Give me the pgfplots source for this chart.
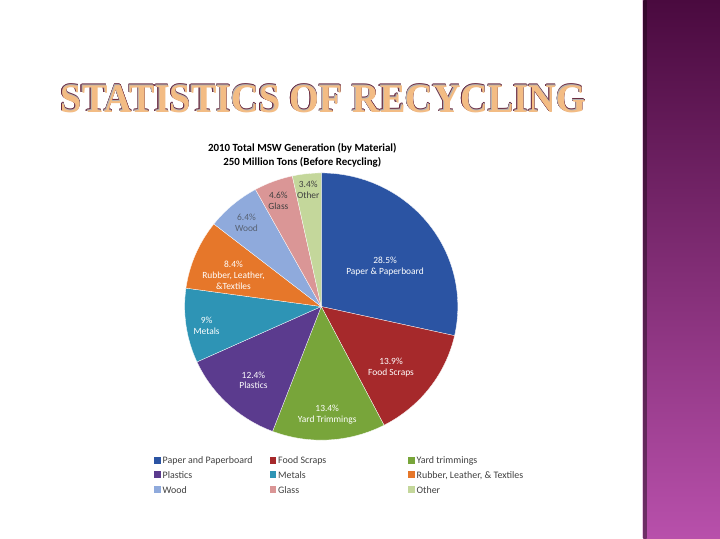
\documentclass[border=0pt]{standalone}
\usepackage{pgfplots}
\pgfplotsset{compat=1.18}
\usepackage{pgfplotstable}
\usepackage{fontspec}
\setmainfont{Carlito}
\newfontfamily\titlefont{Liberation Serif}

\definecolor{pie0}{HTML}{2B54A3}
\definecolor{pie1}{HTML}{A6292B}
\definecolor{pie2}{HTML}{78A53A}
\definecolor{pie3}{HTML}{5B3B8E}
\definecolor{pie4}{HTML}{2E94B5}
\definecolor{pie5}{HTML}{E6772A}
\definecolor{pie6}{HTML}{8FAADC}
\definecolor{pie7}{HTML}{DA9696}
\definecolor{pie8}{HTML}{C4D79B}
\definecolor{barTop}{HTML}{4A0A3F}
\definecolor{barMid}{HTML}{7D2C72}
\definecolor{barBot}{HTML}{B850AB}
\definecolor{outl}{HTML}{6A2A40}
\definecolor{peach}{HTML}{F3BC84}
\definecolor{legtext}{HTML}{404040}

% shares of 2010 MSW generation, clockwise from 12 o'clock
\pgfplotstableread{
name value
Paper 28.5
Food 13.9
Yard 13.4
Plastics 12.4
Metals 9.0
Rubber 8.4
Wood 6.4
Glass 4.6
Other 3.4
}\piedata

\begin{document}
% cumulative start/end angles from the table
\gdef\cumangle{90}
\pgfplotsforeachungrouped \i in {0,...,8}{%
  \pgfplotstablegetelem{\i}{value}\of\piedata
  \pgfmathsetmacro\endang{\cumangle-3.6*\pgfplotsretval}%
  \expandafter\xdef\csname pieS\i\endcsname{\cumangle}%
  \expandafter\xdef\csname pieE\i\endcsname{\endang}%
  \xdef\cumangle{\endang}%
}%
\begin{tikzpicture}[x=1bp,y=1bp]
\path[use as bounding box] (0,0) rectangle (720,540);
\fill[white] (0,0) rectangle (720,540);

% right decorative bar
\shade[top color=barTop, middle color=barMid, bottom color=barBot] (643,0) rectangle (720,540);
\shade[top color=barTop!70!black, bottom color=barBot!60!black] (643,0) rectangle (646.5,540);
\fill[barBot!30!white] (642,0) rectangle (643,540);

% slide title
\def\ttl{\resizebox{527bp}{27bp}{\titlefont\bfseries STATISTICS OF RECYCLING}}
\foreach \dx/\dy in {-0.55/0,0.55/0,0/0.55,0/-0.55,-0.4/0.4,0.4/0.4,-0.4/-0.4,0.4/-0.4}{
  \node[inner sep=0pt, text=outl] at (321.5+\dx,441.5+\dy) {\ttl};
}
\node[inner sep=0pt, text=black!30] at (321.5,441.5) {\ttl};
\node[inner sep=0pt, text=peach] at (322.3,440.9) {\ttl};

% chart title
\node[font=\bfseries\fontsize{11}{14}\selectfont, align=center, text=black] at (301,384)
  {2010 Total MSW Generation (by Material)\\250 Million Tons (Before Recycling)};

\begin{axis}[
  at={(183bp,98.5bp)}, anchor=south west,
  x=137bp, y=134bp,
  xmin=-1, xmax=1, ymin=-1, ymax=1,
  hide axis, clip=false,
  legend columns=3,
  legend cell align=left,
  legend style={draw=none, fill=none, at={(-0.112,-0.059)}, anchor=north west,
    inner sep=0pt, column sep=0pt, row sep=4.4bp,
    nodes={inner sep=1bp, text=legtext, font=\fontsize{10}{10}\selectfont}},
  legend image code/.code={\fill[#1] (0bp,-1.5bp) rectangle (5.5bp,4.5bp);},
]
\pgfplotsinvokeforeach{0,...,8}{
  \fill[pie#1, draw=white, line width=0.3bp] (axis cs:0,0) --
    (axis cs:{cos(\csname pieS#1\endcsname)},{sin(\csname pieS#1\endcsname)})
    arc[start angle=\csname pieS#1\endcsname, end angle=\csname pieE#1\endcsname,
        x radius=137bp, y radius=134bp] -- cycle;
}
\addlegendimage{pie0}\addlegendentry{\makebox[108bp][l]{\hspace{1.5bp}Paper and Paperboard}}
\addlegendimage{pie1}\addlegendentry{\makebox[131bp][l]{\hspace{1.5bp}Food Scraps}}
\addlegendimage{pie2}\addlegendentry{\hspace{1.5bp}Yard trimmings}
\addlegendimage{pie3}\addlegendentry{\makebox[108bp][l]{\hspace{1.5bp}Plastics}}
\addlegendimage{pie4}\addlegendentry{\makebox[131bp][l]{\hspace{1.5bp}Metals}}
\addlegendimage{pie5}\addlegendentry{\hspace{1.5bp}Rubber, Leather, \& Textiles}
\addlegendimage{pie6}\addlegendentry{\makebox[108bp][l]{\hspace{1.5bp}Wood}}
\addlegendimage{pie7}\addlegendentry{\makebox[131bp][l]{\hspace{1.5bp}Glass}}
\addlegendimage{pie8}\addlegendentry{\hspace{1.5bp}Other}
\end{axis}

% slice labels
\begin{scope}[every node/.style={align=center, font=\fontsize{9.5}{11}\selectfont, inner sep=0pt}]
\node[text=white] at (384,273) {28.5\%\\Paper \& Paperboard};
\node[text=white] at (390,171) {13.9\%\\Food Scraps};
\node[text=white] at (326,124.5) {13.4\%\\Yard Trimmings};
\node[text=white] at (252,158.5) {12.4\%\\Plastics};
\node[text=white] at (205,213) {9\%\\Metals};
\node[text=white] at (232,264) {8.4\%\\Rubber, Leather,\\\&Textiles};
\node[text=white!30!pie6!50!black] at (245,316.5) {6.4\%\\Wood};
\node[text=black!75] at (277,338.5) {4.6\%\\Glass};
\node[text=black!75] at (307,350) {3.4\%\\Other};
\end{scope}
\end{tikzpicture}
\end{document}
